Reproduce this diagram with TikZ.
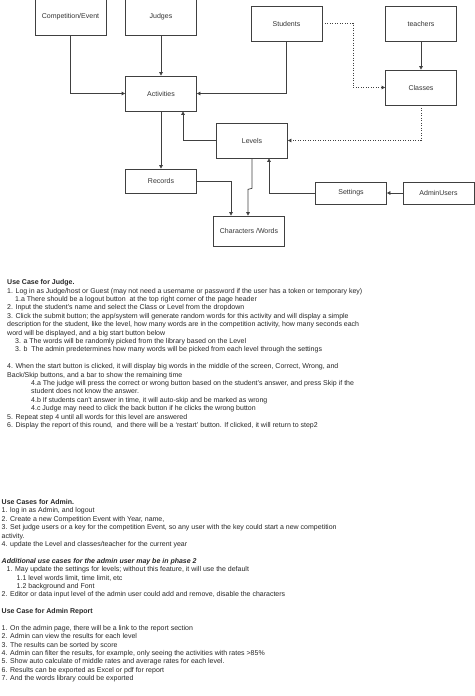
\documentclass[tikz,border=0pt]{standalone}
\usepackage{fontspec}
\setmainfont{Liberation Sans}
\usetikzlibrary{arrows.meta, positioning}

\begin{document}
\begin{tikzpicture}[x=1pt, y=-1pt,
  box/.style={draw=black!75, line width=0.7pt, minimum width=71pt, minimum height=35pt,
              inner sep=1pt, align=center, font=\fontsize{7}{8.4}\selectfont, text=black!80},
  arrow/.style={-{Triangle[length=3.5pt, width=3.5pt]}, line width=0.7pt, draw=black!75},
  dots/.style={arrow, dash pattern=on 1pt off 1.5pt},
  usecase/.style={anchor=north west, inner sep=0pt, align=left,
                  font=\fontsize{7}{8.4}\selectfont, text=black!85}]

  \useasboundingbox (0,0) rectangle (474,696);

  % entities
  \node[box, minimum height=36pt] (comp)   at (70.5,17) {Competition/Event};
  \node[box, minimum height=36pt] (judges) at (161,17)  {Judges};
  \node[box] (students)   at (286.5,23.5) {Students};
  \node[box] (teachers)   at (421,23.5)   {teachers};
  \node[box] (classes)    at (421,87.5)   {Classes};
  \node[box] (activities) at (161,93.5)   {Activities};
  \node[box] (levels)     at (252,140.5)  {Levels};
  \node[box, minimum height=24pt] (records)    at (161,181)   {Records};
  \node[box, minimum height=30pt] (chars)      at (249,231)   {Characters /Words};
  \node[box, minimum height=22pt] (settings)   at (351,193)   {Settings};
  \node[box, minimum height=22pt] (adminusers) at (438.5,193) {AdminUsers};

  % relations
  \draw[arrow] (comp) |- (activities);
  \draw[arrow] (judges) -- (activities);
  \draw[arrow] (students) |- (activities);
  \draw[dots]  (students.east) -- ++(31,0) |- (classes.west);
  \draw[arrow] (teachers) -- (classes);
  \draw[dots]  (classes) |- (levels);
  \draw[arrow] (levels.west) -| ([xshift=22pt]activities.south);
  \draw[arrow] (activities) -- (records);
  \draw[arrow] (records.east) -| ([xshift=-18pt]chars.north);
  \draw[arrow] (levels.south) -- ++(0,30) -- ++(-4,1) -- ([xshift=-1pt]chars.north);
  \draw[arrow] (settings.west) -| ([xshift=17pt]levels.south);
  \draw[arrow] (adminusers) -- (settings);

  % use case notes
  \node[usecase] (judgecase) at (7,279.5) {%
    \textbf{Use Case for Judge.}\\
    1. Log in as Judge/host or Guest (may not need a username or password if the user has a token or temporary key)\\
    \hspace*{8pt}1.a There should be a logout button\ \ at the top right corner of the page header\\
    2. Input the student's name and select the Class or Level from the dropdown\\
    3. Click the submit button; the app/system will generate random words for this activity and will display a simple\\
    description for the student, like the level, how many words are in the competition activity, how many seconds each\\
    word will be displayed, and a big start button below\\
    \hspace*{8pt}3. a The words will be randomly picked from the library based on the Level\\
    \hspace*{8pt}3. b\ \ The admin predetermines how many words will be picked from each level through the settings\\[8.4pt]
    4. When the start button is clicked, it will display big words in the middle of the screen, Correct, Wrong, and\\
    Back/Skip buttons, and a bar to show the remaining time\\
    \hspace*{24pt}4.a The judge will press the correct or wrong button based on the student's answer, and press Skip if the\\
    \hspace*{24pt}student does not know the answer.\\
    \hspace*{24pt}4.b If students can't answer in time, it will auto-skip and be marked as wrong\\
    \hspace*{24pt}4.c Judge may need to click the back button if he clicks the wrong button\\
    5. Repeat step 4 until all words for this level are answered\\
    6. Display the report of this round,\ \ and there will be a `restart' button. If clicked, it will return to step2};

  \node[usecase] (admincase) at (1.5,499.3) {%
    \textbf{Use Cases for Admin.}\\
    1. log in as Admin, and logout\\
    2. Create a new Competition Event with Year, name,\\
    3. Set judge users or a key for the competition Event, so any user with the key could start a new competition\\
    activity.\\
    4. update the Level and classes/teacher for the current year\\[8.4pt]
    \textbf{\textit{Additional use cases for the admin user may be in phase 2}}\\
    \hspace*{5pt}1. May update the settings for levels; without this feature, it will use the default\\
    \hspace*{15pt}1.1 level words limit, time limit, etc\\
    \hspace*{15pt}1.2 background and Font\\
    2. Editor or data input level of the admin user could add and remove, disable the characters};

  \node[usecase] (reportcase) at (1.5,608.3) {%
    \textbf{Use Case for Admin Report}\\[8.4pt]
    1. On the admin page, there will be a link to the report section\\
    2. Admin can view the results for each level\\
    3. The results can be sorted by score\\
    4. Admin can filter the results, for example, only seeing the activities with rates >85\%\\
    5. Show auto calculate of middle rates and average rates for each level.\\
    6. Results can be exported as Excel or pdf for report\\
    7. And the words library could be exported};
\end{tikzpicture}
\end{document}
